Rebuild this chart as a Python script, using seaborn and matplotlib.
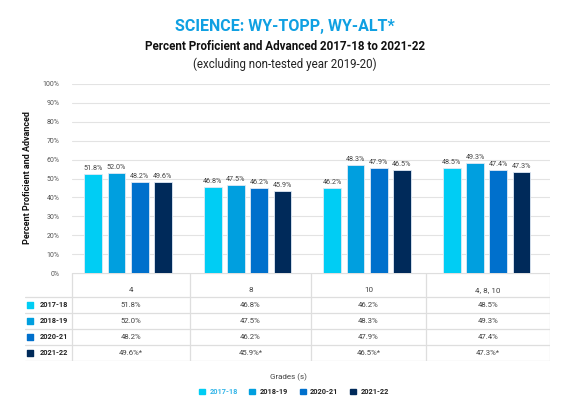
import numpy as np
import pandas as pd
import seaborn as sns
import matplotlib.pyplot as plt
from matplotlib.patches import Patch

# data
grades = ['4', '8', '10', '4, 8, 10']
years = ['2017-18', '2018-19', '2020-21', '2021-22']
# printed values (table and bar labels)
labels_1718 = ['51.8%', '46.8%', '46.2%', '48.5%']
labels_1819 = ['52.0%', '47.5%', '48.3%', '49.3%']
labels_2021 = ['48.2%', '46.2%', '47.9%', '47.4%']
labels_2122 = ['49.6%', '45.9%', '46.5%', '47.3%']
table_2122 = ['49.6%*', '45.9%*', '46.5%*', '47.3%*']
# bar heights as drawn in the picture
bars_1718 = [52.2, 45.5, 44.8, 55.7]
bars_1819 = [52.8, 46.5, 57.2, 58.4]
bars_2021 = [48.3, 44.8, 55.7, 54.5]
bars_2122 = [48.3, 43.5, 54.5, 53.6]

colors = ['#00CDF4', '#009FDF', '#0070CC', '#002A5A']

heights = [bars_1718, bars_1819, bars_2021, bars_2122]
labels = [labels_1718, labels_1819, labels_2021, labels_2122]
table_rows = [labels_1718, labels_1819, labels_2021, table_2122]

rows = []
for y, h in zip(years, heights):
    for g, v in zip(grades, h):
        rows.append({'Grade': g, 'Year': y, 'Value': v})
df = pd.DataFrame(rows)

sns.set_theme(style='white')
plt.rcParams['font.family'] = ['Roboto', 'DejaVu Sans']

W, H = 570, 407
fig = plt.figure(figsize=(W / 100, H / 100), dpi=100)

def fx(px):
    return px / W

def fy(py):
    return 1 - py / H

ax = fig.add_axes([fx(72), fy(273), fx(550) - fx(72), fy(84) - fy(273)])
sns.barplot(data=df, x='Grade', y='Value', hue='Year', order=grades,
            hue_order=years, palette=colors, saturation=1, width=0.776, gap=0.23,
            edgecolor='#dfe9f5', linewidth=0.6, legend=False, ax=ax)

ax.set_ylim(0, 100)
ax.set_xlim(-0.47, 3.53)
ax.set_yticks(np.arange(0, 101, 10))
ax.set_yticklabels([f'{t}%' for t in range(0, 101, 10)], fontsize=5, color='#555555')
ax.tick_params(axis='y', length=0, pad=9)
ax.set_xticks([])
ax.set_xlabel('')
ax.set_ylabel('')
ax.grid(axis='y', color='#e3e3e3', linewidth=0.8)
ax.set_axisbelow(True)
for s in ax.spines.values():
    s.set_visible(False)

for cont, labs in zip(ax.containers, labels):
    ax.bar_label(cont, labels=labs, padding=1.5, fontsize=5.2, color='#444444')

fig.text(fx(28), fy(178), 'Percent Proficient and Advanced', rotation=90,
         ha='center', va='center', fontsize=6.5, fontweight='bold', color='#111111')

# titles
fig.text(0.5, fy(27), 'SCIENCE: WY-TOPP, WY-ALT*', ha='center', va='center',
         fontsize=11.5, fontweight='bold', color='#0FA0E2')
fig.text(0.5, fy(47), 'Percent Proficient and Advanced 2017-18 to 2021-22',
         ha='center', va='center', fontsize=8.4, fontweight='bold', color='#111111')
fig.text(0.5, fy(64), '(excluding non-tested year 2019-20)',
         ha='center', va='center', fontsize=8.3, color='#222222')

# data table under the bars
tab = fig.add_axes([fx(25), fy(361), fx(550) - fx(25), fy(273) - fy(361)])
tab.set_xlim(25, 550)
tab.set_ylim(361, 273)
tab.axis('off')
col_edges = [72, 190, 311, 426, 550]
row_edges = [273, 297, 313, 329, 345, 361]
line_c = '#dedede'
for xe in col_edges:
    tab.plot([xe, xe], [273, 361], color=line_c, lw=0.9)
tab.plot([72, 550], [273, 273], color=line_c, lw=0.9)
for ye in row_edges[1:]:
    tab.plot([25, 550], [ye, ye], color=line_c, lw=0.9)
for i, g in enumerate(grades):
    cx = (col_edges[i] + col_edges[i + 1]) / 2
    tab.text(cx, 290, g, ha='center', va='center', fontsize=5.8, color='#444444')
    for r, vals in enumerate(table_rows):
        cy = (row_edges[r + 1] + row_edges[r + 2]) / 2
        tab.text(cx, cy, vals[i], ha='center', va='center', fontsize=5.6, color='#444444')
for r, (y, c) in enumerate(zip(years, colors)):
    cy = (row_edges[r + 1] + row_edges[r + 2]) / 2
    tab.scatter([30], [cy], marker='s', s=14, color=c)
    tab.text(40, cy, y, ha='left', va='center', fontsize=5.3, fontweight='bold', color='#222222')

fig.text(fx(288), fy(377), 'Grades (s)', ha='center', va='center', fontsize=5.8, color='#444444')

handles = [Patch(facecolor=c, edgecolor=c) for c in colors]
leg = fig.legend(handles, years, loc='center', bbox_to_anchor=(fx(294), fy(392)),
                 ncol=4, frameon=False, fontsize=5.3, handlelength=0.8, handleheight=0.8,
                 handletextpad=0.6, columnspacing=1.6)
for i, t in enumerate(leg.get_texts()):
    t.set_fontweight('bold')
    t.set_color('#33B5E8' if i == 0 else '#222222')

fig.savefig('out.png', dpi=100)
